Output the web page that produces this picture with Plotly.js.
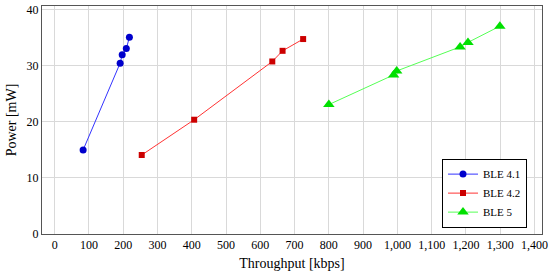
<!DOCTYPE html>
<html>
<head>
<meta charset="utf-8">
<script src="https://cdn.plot.ly/plotly-3.0.1.min.js"></script>
<style>html,body{margin:0;padding:0;background:#fff;}#chart{width:550px;height:275px;}</style>
</head>
<body>
<div id="chart"></div>
<script>
const seriesNames = ["BLE 4.1", "BLE 4.2", "BLE 5"];
const ble41X = [83, 191, 197, 209, 218];
const ble41Y = [15.0, 30.5, 32.0, 33.1, 35.1];
const ble42X = [254, 407, 635, 665, 725];
const ble42Y = [14.1, 20.4, 30.8, 32.7, 34.8];
const ble5X = [800, 989, 998, 1183, 1206, 1299];
const ble5Y = [23.1, 28.4, 29.1, 33.4, 34.2, 37.1];

const font = "'Liberation Serif', 'DejaVu Serif', serif";
const traces = [
  {x: ble41X, y: ble41Y, name: seriesNames[0], mode: 'lines+markers',
   line: {color: '#3333ff', width: 1}, marker: {symbol: 'circle', size: 7, color: '#0000cc'}},
  {x: ble42X, y: ble42Y, name: seriesNames[1], mode: 'lines+markers',
   line: {color: '#ff3333', width: 1}, marker: {symbol: 'square', size: 6, color: '#cc0000'}},
  {x: ble5X, y: ble5Y, name: seriesNames[2], mode: 'lines+markers',
   line: {color: '#55ff55', width: 1}, marker: {symbol: 'triangle-up', size: 10, color: '#00e000'}}
];
const layout = {
  width: 550, height: 275,
  margin: {l: 42, r: 8, t: 6, b: 41},
  paper_bgcolor: '#fff', plot_bgcolor: '#fff',
  font: {family: font, size: 12, color: '#000'},
  showlegend: true,
  legend: {x: 0.97, xanchor: 'right', y: 0.028, yanchor: 'bottom',
    bordercolor: '#000', borderwidth: 1, bgcolor: '#fff',
    font: {family: font, size: 11}, tracegroupgap: 0, itemwidth: 30},
  xaxis: {range: [-37, 1422], dtick: 100, tick0: 0, tickformat: ',',
    showgrid: true, gridcolor: '#d9d9d9', zeroline: false,
    showline: true, mirror: true, linecolor: '#555', linewidth: 1,
    ticks: '', title: {text: 'Throughput [kbps]', font: {family: font, size: 14}, standoff: 6}},
  yaxis: {range: [0, 40.7], dtick: 10, tick0: 0,
    showgrid: true, gridcolor: '#d9d9d9', zeroline: false,
    showline: true, mirror: true, linecolor: '#555', linewidth: 1,
    ticks: '', title: {text: 'Power [mW]', font: {family: font, size: 14}, standoff: 6}}
};
Plotly.newPlot('chart', traces, layout, {displayModeBar: false, staticPlot: true});
</script>
</body>
</html>
